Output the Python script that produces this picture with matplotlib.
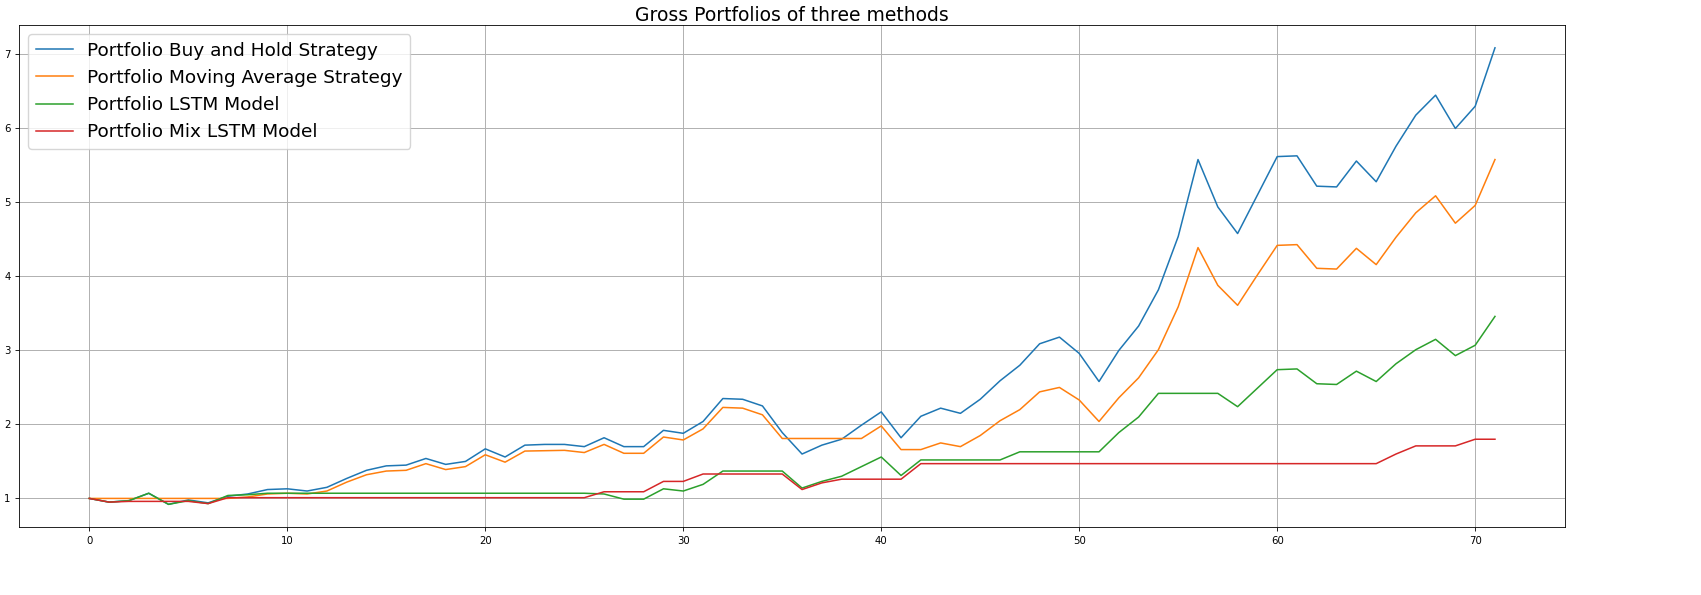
import matplotlib
matplotlib.use("Agg")
import matplotlib.pyplot as plt

buy_hold = [1.0,0.95,0.97,1.07,0.92,0.98,0.94,1.03,1.06,1.12,1.13,1.10,1.15,1.27,1.38,1.44,1.45,1.54,1.46,1.50,
            1.67,1.56,1.72,1.73,1.73,1.70,1.82,1.70,1.70,1.92,1.88,2.04,2.35,2.34,2.25,1.89,1.60,1.72,1.80,1.99,
            2.17,1.82,2.11,2.22,2.15,2.34,2.59,2.80,3.09,3.18,2.96,2.58,3.00,3.33,3.82,4.54,5.58,4.94,4.58,5.10,
            5.62,5.63,5.22,5.21,5.56,5.28,5.76,6.18,6.45,6.00,6.30,7.09]
moving_avg = [1.0,1.0,1.0,1.0,1.0,1.0,1.0,1.0,1.02,1.06,1.07,1.06,1.10,1.22,1.32,1.37,1.38,1.47,1.39,1.43,
              1.59,1.49,1.64,1.645,1.65,1.62,1.73,1.61,1.61,1.83,1.79,1.94,2.23,2.22,2.13,1.81,1.81,1.81,1.81,1.81,
              1.98,1.66,1.66,1.75,1.70,1.85,2.05,2.20,2.44,2.50,2.33,2.04,2.36,2.63,3.01,3.59,4.39,3.88,3.61,4.02,
              4.42,4.43,4.11,4.10,4.38,4.16,4.53,4.86,5.09,4.72,4.96,5.58]
lstm = [1.0,0.95,0.97,1.07,0.92,0.97,0.93,1.04,1.05,1.07,1.07,1.07,1.07,1.07,1.07,1.07,1.07,1.07,1.07,1.07,
        1.07,1.07,1.07,1.07,1.07,1.07,1.06,0.99,0.99,1.13,1.10,1.19,1.37,1.37,1.37,1.37,1.14,1.23,1.30,1.43,
        1.56,1.31,1.52,1.52,1.52,1.52,1.52,1.63,1.63,1.63,1.63,1.63,1.89,2.10,2.42,2.42,2.42,2.42,2.24,2.49,
        2.74,2.75,2.55,2.54,2.72,2.58,2.82,3.01,3.15,2.93,3.07,3.46]
mix_lstm = [1.0,0.95,0.96,0.96,0.96,0.96,0.93,1.01,1.01,1.01,1.01,1.01,1.01,1.01,1.01,1.01,1.01,1.01,1.01,1.01,
            1.01,1.01,1.01,1.01,1.01,1.01,1.09,1.09,1.09,1.23,1.23,1.33,1.33,1.33,1.33,1.33,1.12,1.21,1.26,1.26,
            1.26,1.26,1.47,1.47,1.47,1.47,1.47,1.47,1.47,1.47,1.47,1.47,1.47,1.47,1.47,1.47,1.47,1.47,1.47,1.47,
            1.47,1.47,1.47,1.47,1.47,1.47,1.60,1.71,1.71,1.71,1.80,1.80]
labels = ["Portfolio Buy and Hold Strategy", "Portfolio Moving Average Strategy",
          "Portfolio LSTM Model", "Portfolio Mix LSTM Model"]

fig = plt.figure(figsize=(17.01, 5.95), dpi=100)
ax = fig.add_axes([0.0112, 0.114, 0.909, 0.844])
for s, lab in zip([buy_hold, moving_avg, lstm, mix_lstm], labels):
    ax.plot(range(len(s)), s, label=lab, linewidth=1.1)
ax.set_title("Gross Portfolios of three methods", fontsize=13.5, pad=3)
ax.tick_params(labelsize=7.3, width=0.6, length=2.6)
for sp in ax.spines.values():
    sp.set_linewidth(0.6)
ax.grid(True, linewidth=0.7)
ax.legend(fontsize=13.3, loc="upper left")
fig.savefig("out.png", dpi=100)
